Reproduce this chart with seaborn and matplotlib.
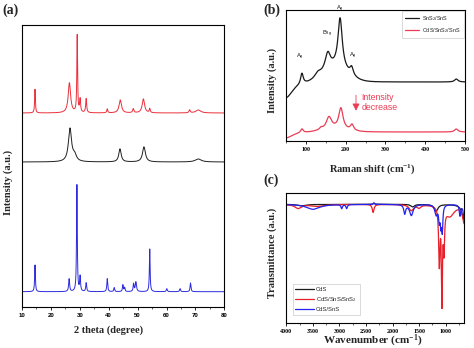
import numpy as np
import pandas as pd
import matplotlib
matplotlib.use("Agg")
import matplotlib.pyplot as plt
from matplotlib.ticker import MultipleLocator, NullLocator
import seaborn as sns

sns.set_theme(style="ticks")
plt.rcParams["font.family"] = ["Liberation Sans", "DejaVu Sans"]
plt.rcParams["mathtext.default"] = "regular"

# ---------------- (a) XRD peak tables: 2theta (deg), height, FWHM ----------------
xrd_red_base = 194.3
xrd_red_pos = [14.5, 26.4, 29.1, 30.1, 32.2, 39.5, 44.0, 48.5, 52.0, 54.2, 68.0, 71.0]
xrd_red_h = [23.7, 30.0, 77.0, 13.0, 14.0, 4.0, 13.0, 4.0, 14.0, 4.0, 3.0, 3.0]
xrd_red_w = [0.3, 1.0, 0.3, 0.4, 0.4, 0.4, 1.0, 0.5, 1.0, 0.4, 0.5, 2.0]

xrd_black_base = 145.3
xrd_black_pos = [26.6, 28.2, 43.9, 52.2, 71.0]
xrd_black_h = [33.0, 6.0, 13.0, 15.0, 3.0]
xrd_black_w = [1.3, 1.5, 1.0, 1.2, 2.5]

xrd_blue_base = 15.6
xrd_blue_pos = [14.5, 26.3, 29.0, 30.1, 32.2, 39.5, 41.9, 44.9, 45.5, 48.6, 49.4, 54.2, 60.1, 64.7, 68.3]
xrd_blue_h = [26.7, 12.7, 106.7, 14.7, 8.7, 13.0, 4.0, 6.7, 4.0, 7.7, 9.7, 42.7, 3.0, 3.0, 8.7]
xrd_blue_w = [0.3, 0.4, 0.3, 0.35, 0.35, 0.35, 0.35, 0.35, 0.35, 0.35, 0.5, 0.3, 0.4, 0.4, 0.35]

xrd_ticks = [10, 20, 30, 40, 50, 60, 70, 80]

# ---------------- (b) Raman band tables: shift (cm-1), height, FWHM ----------------
raman_black_base = 59.0
raman_black_pos = [50, 90, 130, 155, 186, 215, 478]
raman_black_h = [-16.0, 11.0, 5.0, 17.0, 50.0, 8.0, 3.0]
raman_black_w = [40, 8, 20, 16, 13, 10, 10]
raman_black_bg = (175, 14.0, 30)   # broad background: centre, height, sigma

raman_red_base = 9.0
raman_red_pos = [50, 90, 138, 158, 188, 216, 478]
raman_red_h = [-6.0, 4.0, 2.0, 12.0, 21.0, 6.0, 3.0]
raman_red_w = [40, 8, 8, 16, 13, 10, 10]
raman_red_bg = (170, 3.0, 30)

raman_labels = ["A$_g$", "B$_{3g}$", "A$_g$", "A$_g$"]
raman_label_x = [86, 153, 185, 219]
raman_label_y = [79, 102, 127, 80]

# ---------------- (c) FTIR band tables: wavenumber (cm-1), depth, FWHM ----------------
ftir_base = 118.4
ftir_black_pos = [3700, 2350, 1620, 1180, 650]
ftir_black_h = [-1.5, 1.2, -2.5, -7.0, -15.0]
ftir_black_w = [200, 30, 80, 80, 100]

ftir_red_pos = [3775, 3400, 2365, 1646, 1500, 1120, 1070, 1032, 920, 650]
ftir_red_h = [-4.0, -2.0, -8.0, -6.0, -3.0, -57.0, -92.0, -40.0, -11.0, -18.0]
ftir_red_w = [150, 300, 40, 100, 80, 30, 22, 25, 200, 80]

ftir_blue_pos = [3494, 2957, 2863, 2350, 1771, 1646, 1178, 1120, 1090, 1064, 731, 650]
ftir_blue_h = [-5.0, -4.0, -4.0, 1.5, -9.0, -11.0, -10.0, -15.0, -18.0, -25.0, -11.0, -15.0]
ftir_blue_w = [300, 30, 30, 30, 40, 80, 60, 30, 25, 25, 30, 40]


def band_sum(x, base, pos, h, w):
    y = np.full_like(x, base, dtype=float)
    for c, a, fw in zip(pos, h, w):
        y += a / (1.0 + ((x - c) / (fw / 2.0)) ** 2)
    return y


def broad(x, bg):
    c, a, s = bg
    return a * np.exp(-0.5 * ((x - c) / s) ** 2)


tt = np.arange(10, 80.001, 0.02)
xrd = pd.DataFrame({
    "tt": tt,
    "red": band_sum(tt, xrd_red_base, xrd_red_pos, xrd_red_h, xrd_red_w),
    "black": band_sum(tt, xrd_black_base, xrd_black_pos, xrd_black_h, xrd_black_w),
    "blue": band_sum(tt, xrd_blue_base, xrd_blue_pos, xrd_blue_h, xrd_blue_w),
})

rs = np.arange(50, 500.01, 0.5)
raman = pd.DataFrame({
    "shift": rs,
    "SnS$_2$/SnS": band_sum(rs, raman_black_base, raman_black_pos, raman_black_h, raman_black_w) + broad(rs, raman_black_bg),
    "CdS/SnS$_2$/SnS": band_sum(rs, raman_red_base, raman_red_pos, raman_red_h, raman_red_w) + broad(rs, raman_red_bg),
})

wn = np.arange(650, 4000.01, 2.0)
ftir = pd.DataFrame({
    "wn": wn,
    "CdS": band_sum(wn, ftir_base, ftir_black_pos, ftir_black_h, ftir_black_w),
    "CdS/SnS/SnS$_2$": band_sum(wn, ftir_base, ftir_red_pos, ftir_red_h, ftir_red_w),
    "CdS/SnS": band_sum(wn, ftir_base, ftir_blue_pos, ftir_blue_h, ftir_blue_w),
})

W, H = 474, 348
fig = plt.figure(figsize=(W / 100, H / 100), dpi=100)
fig.patch.set_facecolor("white")


def px_axes(l, t, r, b):
    return fig.add_axes([l / W, 1 - b / H, (r - l) / W, (b - t) / H])


serif_bold = dict(family=["Liberation Serif", "DejaVu Serif"], weight="bold")


def style_axes(ax, tick_family):
    for s in ax.spines.values():
        s.set_linewidth(0.8)
        s.set_color("black")
    ax.yaxis.set_major_locator(NullLocator())
    ax.yaxis.set_minor_locator(NullLocator())
    ax.tick_params(axis="x", which="major", direction="out", length=2.2, width=0.6,
                   pad=2.0, labelsize=4.3, colors="black")
    ax.tick_params(axis="x", which="minor", direction="out", length=1.4, width=0.5)
    for lab in ax.get_xticklabels():
        lab.set_family(tick_family)
        lab.set_weight("bold")
    ax.set_xlabel("")
    ax.set_ylabel("")
    ax.set_facecolor("white")


# ---------------- (a) XRD ----------------
axa = px_axes(22, 25, 224.3, 307.3)
for col, c in [("red", "#ec2f3b"), ("black", "#202020"), ("blue", "#2c2cdc")]:
    sns.lineplot(data=xrd, x="tt", y=col, ax=axa, color=c, linewidth=0.7, sort=False)
axa.set_xlim(10, 80)
axa.set_ylim(0, 282.3)
axa.set_xticks(xrd_ticks)
axa.xaxis.set_minor_locator(MultipleLocator(5))
style_axes(axa, ["Liberation Sans", "DejaVu Sans"])

fig.text(2 / W, 1 - 10 / H, "(a)", fontsize=10, va="center", ha="left", **serif_bold)
fig.text(8 / W, 1 - 182 / H, "Intensity (a.u.)", fontsize=7.5, rotation=90,
         va="center", ha="center", **serif_bold)
fig.text(109 / W, 1 - 330 / H, "2 theta (degree)", fontsize=7.5,
         va="center", ha="center", **serif_bold)

# ---------------- (b) Raman ----------------
axb = px_axes(286, 10, 465, 141)
sns.lineplot(data=raman, x="shift", y="SnS$_2$/SnS", ax=axb, color="#1a1a1a",
             linewidth=0.9, label="SnS$_2$/SnS")
sns.lineplot(data=raman, x="shift", y="CdS/SnS$_2$/SnS", ax=axb, color="#ec3d56",
             linewidth=0.9, label="CdS/SnS$_2$/SnS")
axb.set_xlim(50, 500)
axb.set_ylim(0, 131)
axb.xaxis.set_major_locator(MultipleLocator(100))
axb.xaxis.set_minor_locator(MultipleLocator(50))
style_axes(axb, ["Liberation Serif", "DejaVu Serif"])
leg = axb.legend(loc="upper right", fontsize=4, frameon=True, handlelength=2.6,
                 borderaxespad=0.25, borderpad=0.5, labelspacing=0.6, handletextpad=0.5)
leg.get_frame().set_edgecolor("#bdbdbd")
leg.get_frame().set_linewidth(0.5)
leg.get_frame().set_boxstyle("square", pad=0)
for txt, lx, ly in zip(raman_labels, raman_label_x, raman_label_y):
    axb.text(lx, ly, txt, fontsize=4.2, ha="center", va="bottom", color="#1a1a1a")
axb.annotate("", xy=(226, 27.5), xytext=(226, 48.5),
             arrowprops=dict(arrowstyle="-|>,head_length=0.35,head_width=0.18",
                             color="#ec3d56", lw=0.6))
axb.text(240, 43.5, "Intensity", fontsize=6.3, color="#ec3d56", va="center", ha="left")
axb.text(240, 33.5, "decrease", fontsize=6.3, color="#ec3d56", va="center", ha="left")

fig.text(263 / W, 1 - 10 / H, "(b)", fontsize=10, va="center", ha="left", **serif_bold)
fig.text(272 / W, 1 - 80 / H, "Intensity (a.u.)", fontsize=7.5, rotation=90,
         va="center", ha="center", **serif_bold)
fig.text(372 / W, 1 - 169 / H, "Raman shift (cm$^{-1}$)", fontsize=7.5,
         va="center", ha="center", **serif_bold)

# ---------------- (c) FTIR ----------------
axc = px_axes(286.3, 192.7, 464.3, 322.7)
for col, c in [("CdS", "#1a1a1a"), ("CdS/SnS/SnS$_2$", "#e8202a"), ("CdS/SnS", "#2323f0")]:
    sns.lineplot(data=ftir, x="wn", y=col, ax=axc, color=c, linewidth=0.9, label=col)
axc.set_xlim(4000, 650)
axc.set_ylim(0, 130)
axc.xaxis.set_major_locator(MultipleLocator(500))
axc.xaxis.set_minor_locator(MultipleLocator(250))
style_axes(axc, ["Liberation Serif", "DejaVu Serif"])
leg2 = axc.legend(loc="lower left", bbox_to_anchor=(0.035, 0.06), fontsize=4.2,
                  frameon=True, handlelength=3.2, borderaxespad=0, borderpad=0.45,
                  labelspacing=0.55, handletextpad=0.4)
leg2.get_frame().set_edgecolor("#bdbdbd")
leg2.get_frame().set_linewidth(0.5)
leg2.get_frame().set_boxstyle("square", pad=0)

fig.text(263 / W, 1 - 180 / H, "(c)", fontsize=10, va="center", ha="left", **serif_bold)
fig.text(272 / W, 1 - 253 / H, "Transmittance (a.u.)", fontsize=7.5, rotation=90,
         va="center", ha="center", **serif_bold)
fig.text(373 / W, 1 - 340.5 / H, "Wavenumber (cm$^{-1}$)", fontsize=8,
         va="center", ha="center", **serif_bold)

fig.savefig("out.png", dpi=100, facecolor="white")
